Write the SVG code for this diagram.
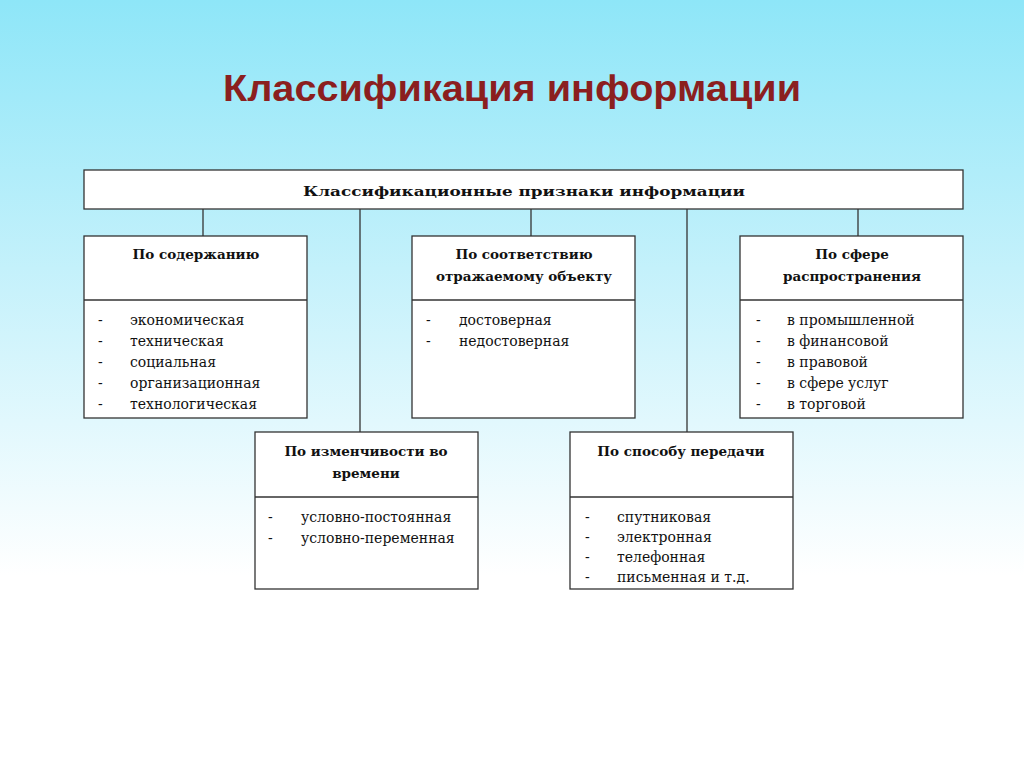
<svg xmlns="http://www.w3.org/2000/svg" width="1024" height="768" viewBox="0 0 1024 768">
<defs>
<linearGradient id="bg" x1="0" y1="0" x2="0" y2="1">
<stop offset="0" stop-color="#8ee6f8"/>
<stop offset="0.35" stop-color="#c4f1fb"/>
<stop offset="0.75" stop-color="#ffffff"/>
<stop offset="1" stop-color="#ffffff"/>
</linearGradient>
</defs>
<style>
.b{fill:#fff;stroke:#333;stroke-width:1.3}
.l{stroke:#333;stroke-width:1.3;fill:none}
.h{font-family:"DejaVu Serif",serif;font-weight:bold;font-size:13.5px;fill:#111;text-anchor:middle}
.t{font-family:"DejaVu Serif",serif;font-size:14px;fill:#111}
</style>
<rect width="1024" height="768" fill="url(#bg)"/>
<text x="512" y="101" text-anchor="middle" font-family="Liberation Sans,Arial,sans-serif" font-weight="bold" font-size="36" fill="#8b1f1f" textLength="578" lengthAdjust="spacingAndGlyphs">Классификация информации</text>
<g id="connectors" class="l">
<line x1="203" y1="209" x2="203" y2="236"/>
<line x1="360" y1="209" x2="360" y2="432"/>
<line x1="531" y1="209" x2="531" y2="236"/>
<line x1="687" y1="209" x2="687" y2="432"/>
<line x1="858" y1="209" x2="858" y2="236"/>
</g>
<g id="root">
<rect class="b" x="84" y="170" width="879" height="39"/>
<text class="h" x="524" y="196" font-size="16" textLength="442" lengthAdjust="spacingAndGlyphs">Классификационные признаки информации</text>
</g>
<g id="n1">
<rect class="b" x="84" y="236" width="223" height="182"/>
<line class="l" x1="84" y1="300" x2="307" y2="300"/>
<text class="h" x="196" y="259">По содержанию</text>
<g class="t"><text x="98" y="325">-</text><text x="130" y="325">экономическая</text>
<text x="98" y="346">-</text><text x="130" y="346">техническая</text>
<text x="98" y="367">-</text><text x="130" y="367">социальная</text>
<text x="98" y="388">-</text><text x="130" y="388">организационная</text>
<text x="98" y="409">-</text><text x="130" y="409">технологическая</text></g>
</g>
<g id="n2">
<rect class="b" x="412" y="236" width="223" height="182"/>
<line class="l" x1="412" y1="300" x2="635" y2="300"/>
<text class="h" x="524" y="259">По соответствию</text>
<text class="h" x="524" y="281">отражаемому объекту</text>
<g class="t"><text x="426" y="325">-</text><text x="459" y="325">достоверная</text>
<text x="426" y="346">-</text><text x="459" y="346">недостоверная</text></g>
</g>
<g id="n3">
<rect class="b" x="740" y="236" width="223" height="182"/>
<line class="l" x1="740" y1="300" x2="963" y2="300"/>
<text class="h" x="852" y="259">По сфере</text>
<text class="h" x="852" y="281">распространения</text>
<g class="t"><text x="756" y="325">-</text><text x="787" y="325">в промышленной</text>
<text x="756" y="346">-</text><text x="787" y="346">в финансовой</text>
<text x="756" y="367">-</text><text x="787" y="367">в правовой</text>
<text x="756" y="388">-</text><text x="787" y="388">в сфере услуг</text>
<text x="756" y="409">-</text><text x="787" y="409">в торговой</text></g>
</g>
<g id="n4">
<rect class="b" x="255" y="432" width="223" height="157"/>
<line class="l" x1="255" y1="497" x2="478" y2="497"/>
<text class="h" x="366" y="456">По изменчивости во</text>
<text class="h" x="366" y="478">времени</text>
<g class="t"><text x="268" y="522">-</text><text x="301" y="522">условно-постоянная</text>
<text x="268" y="543">-</text><text x="301" y="543">условно-переменная</text></g>
</g>
<g id="n5">
<rect class="b" x="570" y="432" width="223" height="157"/>
<line class="l" x1="570" y1="497" x2="793" y2="497"/>
<text class="h" x="681" y="456">По способу передачи</text>
<g class="t"><text x="585" y="522">-</text><text x="617" y="522">спутниковая</text>
<text x="585" y="542">-</text><text x="617" y="542">электронная</text>
<text x="585" y="562">-</text><text x="617" y="562">телефонная</text>
<text x="585" y="582">-</text><text x="617" y="582">письменная и т.д.</text></g>
</g>
</svg>
